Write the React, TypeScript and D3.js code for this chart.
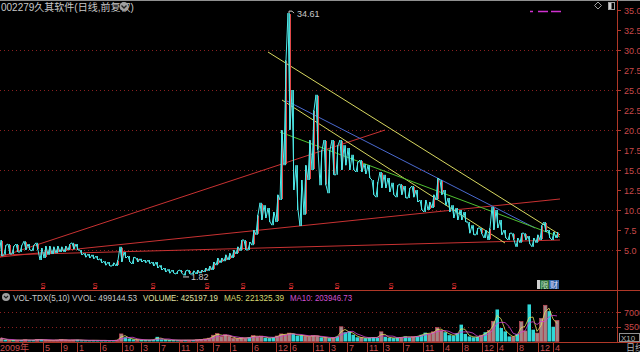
import React from "react";
import * as d3 from "d3";

// ~18 trading days per bucket, 140 buckets
const priceHigh = [
  6.25, 5.6, 5.75, 5.5, 5.75, 5.6, 6.1, 5.75, 5.6, 5.9,
  5.25, 5.5, 5.5, 5.4, 5.5, 5.4, 5.5, 5.75, 5.9, 5.75,
  5.0, 4.6, 4.5, 4.4, 4.25, 3.9, 3.6, 3.5, 3.4, 3.75,
  5.4, 4.75, 4.25, 4.1, 4.0, 3.9, 3.75, 3.75, 3.5, 3.5,
  3.1, 2.75, 2.6, 2.5, 2.4, 2.5, 2.4, 2.5, 2.4, 2.5,
  2.5, 2.75, 3.0, 3.5, 4.0, 4.0, 4.4, 4.6, 5.0, 5.4,
  6.25, 6.25, 6.0, 7.5, 9.4, 10.9, 10.6, 10.25, 9.75, 11.9,
  20, 28.75, 34.61, 25, 15.6, 13.75, 15.6, 18.75, 22.5, 24.4,
  17.5, 18.75, 17.5, 18.75, 18.1, 18.75, 18.1, 17.75, 16.9, 16,
  16.25, 15.75, 15.6, 13.75, 13.5, 14.75, 14.4, 14, 13.4, 13.1,
  13.25, 13, 12.75, 13, 12.5, 11.25, 11.25, 11, 11.9, 14,
  13.75, 12.5, 11.5, 10.6, 10.25, 10, 9.75, 8.5, 8.1, 7.75,
  7.75, 7.5, 7.75, 10.4, 10, 8.75, 7.5, 7.1, 7.1, 6.5,
  7.1, 7.1, 6.75, 6.5, 6.9, 8.1, 8.5, 7.5, 7.25, 7.25,
];
const priceLow = [
  4.25, 4.4, 4.5, 4.5, 4.75, 4.75, 5.0, 5.0, 4.9, 5.0,
  3.75, 4.0, 4.4, 4.5, 4.6, 4.75, 4.75, 5.0, 5.1, 5.0,
  4.4, 4.1, 4.0, 3.9, 3.75, 3.4, 3.1, 3.0, 3.0, 3.0,
  3.5, 4.0, 3.5, 3.25, 3.5, 3.5, 3.4, 3.3, 3.0, 2.75,
  2.5, 2.25, 2.1, 2.1, 2.0, 2.1, 1.82, 2.0, 2.0, 2.0,
  2.1, 2.25, 2.4, 2.5, 3.1, 3.4, 3.6, 3.75, 4.0, 4.5,
  4.9, 5.0, 5.0, 5.6, 6.9, 8.75, 9.0, 8.5, 8.1, 8.5,
  11.25, 15.6, 20, 12.5, 10, 8, 9.4, 13.75, 15, 17.5,
  13.1, 13.1, 12.1, 14.4, 14.4, 15, 15.6, 15, 15, 14.75,
  14.75, 14.5, 14, 11.9, 11.6, 12.75, 12.75, 12.25, 11.9, 11.6,
  11.9, 11.5, 11.5, 11.6, 11, 10, 9.75, 10, 10.25, 11.25,
  11.9, 10.6, 9.75, 9, 8.75, 8.75, 8.5, 7.1, 6.9, 6.9,
  7.0, 6.5, 6.25, 7.5, 7.75, 6.9, 6.5, 6.25, 6.25, 5.4,
  5.9, 6.25, 5.75, 5.4, 5.9, 6.25, 7.25, 6.5, 6.25, 6.5,
];
// volume per bucket (x10 shares, thousands)
const volume = [
  800, 400, 300, 350, 300, 350, 400, 300, 350, 500,
  450, 350, 300, 300, 350, 450, 350, 300, 350, 400,
  300, 250, 250, 300, 250, 250, 250, 200, 250, 300,
  1800, 1000, 700, 500, 400, 400, 350, 350, 400, 1100,
  500, 400, 350, 350, 300, 300, 350, 300, 350, 400,
  500, 600, 800, 1500, 1900, 1200, 1600, 1300, 800, 700,
  900, 800, 1000, 1400, 1100, 1300, 900, 800, 1000, 1300,
  1800, 1600, 2000, 1800, 1400, 1500, 1300, 1200, 1400, 1300,
  1000, 900, 800, 900, 1200, 3500, 2200, 2400, 1600, 1000,
  900, 800, 900, 1000, 900, 2300, 1100, 900, 800, 900,
  1000, 1200, 1000, 1100, 1300, 1600, 2100, 1800, 2300, 3300,
  2600, 2200, 1500, 1400, 2000, 4000, 1800, 1200, 1000, 1100,
  1500, 2200, 2600, 4800, 7600, 3200, 2400, 1200, 1100, 1800,
  4700, 2500, 8800, 2800, 2000, 5500, 8600, 7200, 3500, 5000,
];

const priceTicks = [35, 32.5, 30, 27.5, 25, 22.5, 20, 17.5, 15, 12.5, 10, 7.5, 5];
const priceGrid = [30, 25, 20, 15, 10, 5];
const volTicks = [7000, 3500];
const dateLabels = ["2009年", "5", "9", "1", "6", "10", "3", "7", "11", "3", "7", "1", "6", "12", "6", "11", "3", "7", "11", "3", "7", "11", "4", "8", "12", "4", "8", "12", "4"];
const dateIdx = [-0.25, 10.5, 15, 19, 24.75, 30.25, 35, 39.5, 44.5, 49, 53, 57.25, 62.75, 68.75, 72.25, 78, 82, 86.5, 91.5, 95.5, 100.5, 105.5, 110.5, 115.25, 120.25, 124, 129, 134.25, 138];
const sMarkerIdx = [10.5, 23.5, 38, 51.5, 60.5, 72.5, 84, 97.5, 113.25];

// trend lines: [i0, p0, i1, p1, color]
const trendLines: [number, number, number, number, string][] = [
  [-0.25, 4.125, 96, 20.0, "#c83232"],
  [-0.25, 4.125, 139.75, 11.375, "#c83232"],
  [-0.25, 4.375, 139.75, 6.25, "#c83232"],
  [66.75, 29.75, 139.75, 6.9, "#d8d860"],
  [70.25, 23.75, 126, 5.875, "#d8d860"],
  [71, 23.75, 133.5, 7.75, "#4a6ad0"],
  [69.75, 19.75, 139.75, 6.625, "#50c030"],
];

const FONT = "'Liberation Sans', 'Noto Sans CJK SC', sans-serif";

export default function App() {
  const N = priceHigh.length;
  const x = d3.scaleLinear().domain([0, N - 1]).range([1, 557]);
  const y = d3.scaleLinear().domain([5, 35]).range([250, 10]);
  const yv = d3.scaleLinear().domain([0, 7000]).range([341.5, 312]);

  const mids = priceHigh.map((h, i) => (h + priceLow[i]) / 2);
  const rising = mids.map((m, i) => (i === 0 ? true : m >= mids[i - 1]));

  const pts: [number, number][] = [];
  for (let i = 0; i < N; i++) {
    const nextUp = i < N - 1 ? mids[i + 1] >= mids[i] : true;
    const a = nextUp ? priceLow[i] : priceHigh[i];
    const b = nextUp ? priceHigh[i] : priceLow[i];
    pts.push([x(i) - 1, y(a)], [x(i) + 1, y(b)]);
  }
  const priceLine = d3.line()(pts) || "";

  const ma = (win: number) =>
    volume.map((_, i) => d3.mean(volume.slice(Math.max(0, i - win + 1), i + 1)) as number);
  const ma5 = ma(2);
  const ma10 = ma(4);
  const volLine = d3.line<number>().x((_, i) => x(i)).y((d) => yv(d));

  const maxI = d3.maxIndex(priceHigh);
  const minI = d3.minIndex(priceLow);

  return (
    <svg width={640} height={352} style={{ position: "absolute", left: 0, top: 0, background: "#000" }}>
      <rect x={0} y={0} width={640} height={352} fill="#000" />
      <line x1={0} x2={640} y1={0.5} y2={0.5} stroke="#909090" />
      {/* grid */}
      {priceGrid.map((p) => (
        <line key={p} x1={0} x2={617} y1={y(p) + 0.5} y2={y(p) + 0.5} stroke="#8a2020" strokeDasharray="1,3" />
      ))}
      {volTicks.map((v) => (
        <line key={v} x1={0} x2={617} y1={Math.round(yv(v)) + 0.5} y2={Math.round(yv(v)) + 0.5} stroke="#8a2020" strokeDasharray="1,3" />
      ))}
      {/* title */}
      <text x={1} y={11} fill="#c8c8c8" fontSize={10} fontFamily={FONT}>002279久其软件(日线,前复权)</text>
      <circle cx={124} cy={6.5} r={4.5} fill="#a0a0a0" />
      <path d="M121.5,5.5 L124,8 L126.5,5.5" fill="none" stroke="#202020" strokeWidth={1.3} />
      {/* top right */}
      <line x1={530} x2={533} y1={11.5} y2={11.5} stroke="#d030d0" strokeWidth={1.5} />
      <line x1={538} x2={548} y1={11.5} y2={11.5} stroke="#d030d0" strokeWidth={1.5} />
      <line x1={551} x2={561} y1={11.5} y2={11.5} stroke="#d030d0" strokeWidth={1.5} />
      <path d="M598,2 L601.5,5.5 L598,9 L594.5,5.5 Z" fill="none" stroke="#a0a0a0" />
      <rect x={608.5} y={2.5} width={6} height={7} fill="none" stroke="#a0a0a0" />
      <rect x={609} y={3} width={2.5} height={6} fill="#d0d0d0" />

      {/* trend lines */}
      {trendLines.map(([i0, p0, i1, p1, c], k) => (
        <line key={k} x1={x(i0)} y1={y(p0)} x2={x(i1)} y2={y(p1)} stroke={c} strokeWidth={1} />
      ))}

      {/* price */}
      {priceHigh.map((h, i) => (
        <line key={"c" + i} x1={x(i) + 0.5} x2={x(i) + 0.5} y1={y(h)} y2={y(priceLow[i])} stroke="#40d8d8" strokeWidth={1} />
      ))}
      {priceHigh.map((h, i) =>
        rising[i] ? (
          <line key={i} x1={x(i) + 1.5} x2={x(i) + 1.5} y1={y(h) + 1} y2={y(priceLow[i]) - 1} stroke="#e04848" strokeWidth={1} />
        ) : null
      )}
      <path d={priceLine} fill="none" stroke="#50eaea" strokeWidth={1} />

      {/* hi/lo labels */}
      <path d={`M${x(maxI)},${y(priceHigh[maxI])} l0,-2 l3,0 l2,2`} fill="none" stroke="#c8c8c8" />
      <text x={x(maxI) + 8} y={y(priceHigh[maxI]) + 4} fill="#c8c8c8" fontSize={9} fontFamily={FONT}>{priceHigh[maxI].toFixed(2)}</text>
      <path d={`M${x(minI) - 2},${y(priceLow[minI]) + 1.5} l6,0`} fill="none" stroke="#c8c8c8" />
      <text x={x(minI) + 6} y={y(priceLow[minI]) + 4.5} fill="#c8c8c8" fontSize={9} fontFamily={FONT}>{priceLow[minI].toFixed(2)}</text>

      {/* S markers */}
      {sMarkerIdx.map((i, k) => (
        <g key={k}>
          <text x={x(i)} y={288} fill="#e03030" fontSize={7.5} fontFamily={FONT} textAnchor="middle">S</text>
          <line x1={x(i) - 2} x2={x(i) + 2} y1={288.5} y2={288.5} stroke="#e03030" />
        </g>
      ))}
      <rect x={537} y={280} width={3} height={9} fill="#d0d0d0" />
      <rect x={540} y={280} width={9} height={9} fill="#2a6a3a" />
      <text x={544.5} y={288} fill="#c0e0c0" fontSize={8} fontFamily="'Noto Sans CJK SC'" textAnchor="middle">限</text>
      <rect x={549} y={280} width={10} height={9} fill="#3060a0" />
      <text x={554} y={288} fill="#e0e0ff" fontSize={8} fontFamily="'Noto Sans CJK SC'" textAnchor="middle">财</text>

      {/* panel separators */}
      <line x1={0} x2={640} y1={290.5} y2={290.5} stroke="#b03828" />
      <line x1={0} x2={640} y1={342.5} y2={342.5} stroke="#b03828" />
      <line x1={617.5} x2={617.5} y1={0} y2={343} stroke="#b03828" />

      {/* right axis */}
      {priceTicks.map((p) => (
        <g key={p}>
          <line x1={617} x2={621} y1={y(p) + 0.5} y2={y(p) + 0.5} stroke="#b03828" />
          <text x={624} y={y(p) + 3.5} fill="#c84848" fontSize={9} fontFamily={FONT}>{p.toFixed(1)}</text>
        </g>
      ))}
      {volTicks.map((v) => (
        <g key={v}>
          <line x1={617} x2={621} y1={Math.round(yv(v)) + 0.5} y2={Math.round(yv(v)) + 0.5} stroke="#b03828" />
          <text x={624} y={yv(v) + 3.5} fill="#c84848" fontSize={9} fontFamily={FONT}>{v}</text>
        </g>
      ))}
      <rect x={619.5} y={333.5} width={20} height={8} fill="none" stroke="#909090" />
      <text x={621} y={340.5} fill="#b0b0b0" fontSize={8} fontFamily={FONT}>X10</text>

      {/* volume header */}
      <circle cx={6} cy={297} r={4} fill="#a0a0a0" />
      <path d="M4,296 L6,298 L8,296" fill="none" stroke="#202020" strokeWidth={1.2} />
      <text x={13} y={300.5} fill="#c8c8c8" fontSize={9} fontFamily={FONT} textLength={124} lengthAdjust="spacingAndGlyphs">VOL-TDX(5,10) VVOL: 499144.53</text>
      <text x={143} y={300.5} fill="#e0e0a0" fontSize={9} fontFamily={FONT} textLength={75} lengthAdjust="spacingAndGlyphs">VOLUME: 425197.19</text>
      <text x={224} y={300.5} fill="#d8d870" fontSize={9} fontFamily={FONT} textLength={60} lengthAdjust="spacingAndGlyphs">MA5: 221325.39</text>
      <text x={290} y={300.5} fill="#d050d0" fontSize={9} fontFamily={FONT} textLength={62} lengthAdjust="spacingAndGlyphs">MA10: 203946.73</text>

      {/* volume bars */}
      {volume.map((v, i) => (
        <rect key={i} x={x(i) - 1.5} y={yv(v)} width={3.5} height={yv(0) - yv(v)} fill={rising[i] ? "#a08888" : "#30d8d8"} stroke={rising[i] ? "#d04858" : "none"} strokeWidth={0.6} />
      ))}
      <path d={volLine(ma5) || ""} fill="none" stroke="#e0e060" strokeWidth={0.8} />
      <path d={volLine(ma10) || ""} fill="none" stroke="#d040d0" strokeWidth={0.8} />

      {/* date axis */}
      {dateLabels.map((t, k) => (
        <g key={k}>
          {k > 0 && <line x1={Math.round(x(dateIdx[k])) + 0.5} x2={Math.round(x(dateIdx[k])) + 0.5} y1={343} y2={352} stroke="#b03828" />}
          <text x={k > 0 ? x(dateIdx[k]) + 2 : 0} y={351} fill="#c85050" fontSize={9} fontFamily={FONT}>{t}</text>
        </g>
      ))}
      <text x={626} y={351} fill="#b0b0b0" fontSize={9} fontFamily="'Noto Sans CJK SC'">日线</text>
    </svg>
  );
}
